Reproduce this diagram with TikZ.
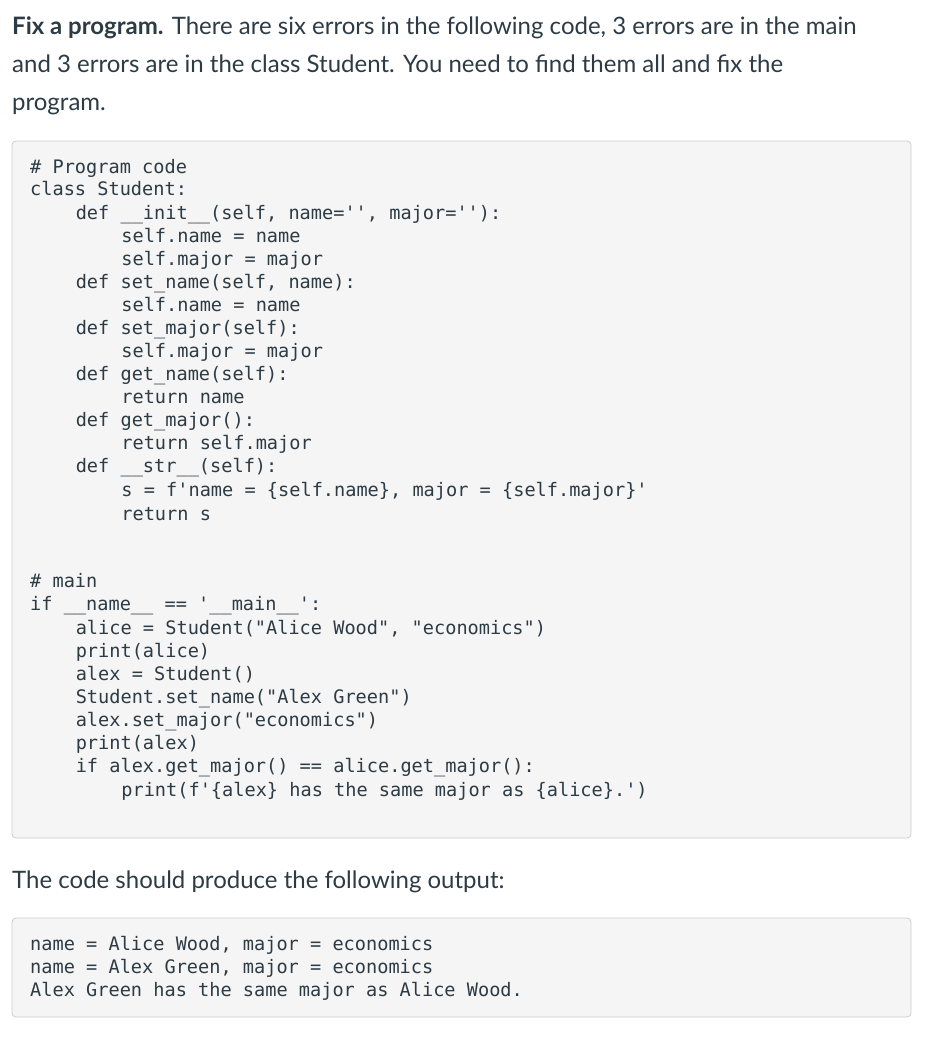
\documentclass[tikz,border=0pt]{standalone}
\usepackage{fontspec}
\setmainfont{Lato}
\newfontfamily\codefont{DejaVu Sans Mono}
\definecolor{txt}{HTML}{2D3B45}
\definecolor{boxfill}{HTML}{F5F5F5}
\definecolor{boxline}{HTML}{CCCCCC}
\begin{document}
\begin{tikzpicture}[x=1pt,y=-1pt,
  prose/.style={anchor=base west,inner sep=0pt,text=txt,font=\fontsize{24}{28}\selectfont},
  code/.style={anchor=base west,inner sep=0pt,text=txt,font=\codefont\fontsize{18.6}{22}\selectfont},
  codebox/.style={draw=boxline,fill=boxfill,rounded corners=4pt,line width=0.8pt}]
\useasboundingbox (0,0) rectangle (934,1038);
\node[prose] (t1) at (12,35) {\textbf{Fix a program.} There are six errors in the following code, 3 errors are in the main};
\node[prose] (t2) at (12,73) {and 3 errors are in the class Student. You need to find them all and fix the};
\node[prose] (t3) at (12,111) {program.};
\draw[codebox] (12,141) rectangle (911,838);
\def\cx{30}\def\ind{45.6}
\foreach \y/\lv/\s [count=\i] in {
167/0/{\# Program code},
189/0/{class Student:},
213/1/{def \_\_init\_\_(self, name='', major=''):},
236/2/{self.name = name},
259/2/{self.major = major},
282/1/{def set\_name(self, name):},
305/2/{self.name = name},
328/1/{def set\_major(self):},
351/2/{self.major = major},
374/1/{def get\_name(self):},
397/2/{return name},
420/1/{def get\_major():},
443/2/{return self.major},
466/1/{def \_\_str\_\_(self):},
490/2/{s = f'name = \{self.name\}, major = \{self.major\}'},
514/2/{return s},
581/0/{\# main},
604/0/{if \_\_name\_\_ == '\_\_main\_\_':},
628/1/{alice = Student("Alice Wood", "economics")},
651/1/{print(alice)},
674/1/{alex = Student()},
697/1/{Student.set\_name("Alex Green")},
720/1/{alex.set\_major("economics")},
743/1/{print(alex)},
766/1/{if alex.get\_major() == alice.get\_major():},
790/2/{print(f'\{alex\} has the same major as \{alice\}.')}}
  \node[code] (c\i) at ({\cx+\lv*\ind},{\y+6}) {\s};
\node[prose] (t4) at (12,888) {The code should produce the following output:};
\draw[codebox] (12,918) rectangle (911,1017);
\node[code] (o1) at (30,950) {name = Alice Wood, major = economics};
\node[code] (o2) at (30,973) {name = Alex Green, major = economics};
\node[code] (o3) at (30,996) {Alex Green has the same major as Alice Wood.};
\end{tikzpicture}
\end{document}
